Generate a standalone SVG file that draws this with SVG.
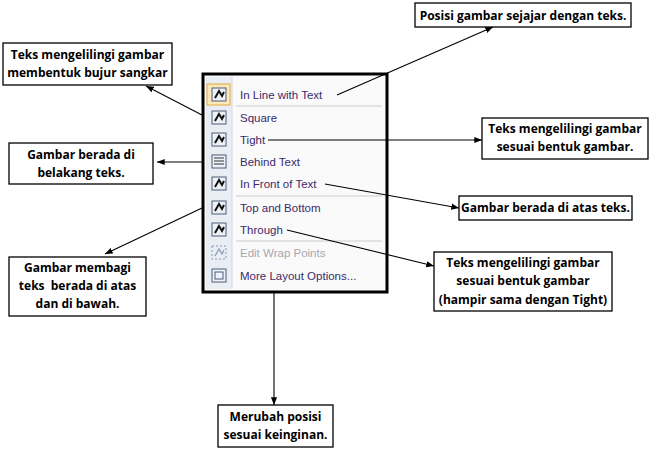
<svg xmlns="http://www.w3.org/2000/svg" width="653" height="453" viewBox="0 0 653 453">
<defs>
<marker id="ah" viewBox="0 0 10 10" refX="10" refY="5" markerWidth="7" markerHeight="7" orient="auto-start-reverse"><path d="M0,1 L10,5 L0,9 z" fill="#000"/></marker>
<style>
.box{fill:#fff;stroke:#000;stroke-width:1.3}
.t{font-family:"Open Sans","Liberation Sans",sans-serif;font-weight:bold;font-size:12px;fill:#000;text-anchor:middle}
.m{font-family:"Liberation Sans",sans-serif;font-size:11.5px;fill:#3a2a6e}
.c{stroke:#000;stroke-width:1.1;fill:none;marker-end:url(#ah)}
.ic{fill:#eef2f8;stroke:#4a5a7a;stroke-width:1}
.sep{stroke:#c8ccd4;stroke-width:1}
</style>
</defs>
<rect width="653" height="453" fill="#fff"/>
<g id="menu">
<rect x="203" y="74" width="184" height="218" fill="#fafafa" stroke="#000" stroke-width="3"/>
<rect x="206" y="77" width="26" height="212" fill="#e9eef5"/>
<line x1="232" y1="77" x2="232" y2="289" stroke="#d0d6e0"/>
<rect x="207" y="84" width="23" height="21" fill="#fde9b8" stroke="#e8a440"/>
<line class="sep" x1="236" y1="106" x2="382" y2="106"/>
<line class="sep" x1="236" y1="196" x2="382" y2="196"/>
<line class="sep" x1="236" y1="241" x2="382" y2="241"/>
<g fill="#1a1a1a">
<rect class="ic" x="212" y="88" width="14" height="13"/><path d="M215,98 L219,91 L222,96 L224,92" stroke="#111" stroke-width="2" fill="none"/>
<rect class="ic" x="212" y="111" width="14" height="13"/><path d="M215,121 L219,114 L222,119 L224,115" stroke="#111" stroke-width="2" fill="none"/>
<rect class="ic" x="212" y="133" width="14" height="13"/><path d="M215,143 L219,136 L222,141 L224,137" stroke="#111" stroke-width="2" fill="none"/>
<rect class="ic" x="212" y="155" width="14" height="13"/><path d="M214,158 h10 M214,161 h10 M214,164 h10" stroke="#333" stroke-width="1.2" fill="none"/>
<rect class="ic" x="212" y="177" width="14" height="13"/><path d="M215,187 L219,180 L222,185 L224,181" stroke="#111" stroke-width="2" fill="none"/>
<rect class="ic" x="212" y="201" width="14" height="13"/><path d="M215,211 L219,204 L222,209 L224,205" stroke="#111" stroke-width="2" fill="none"/>
<rect class="ic" x="212" y="223" width="14" height="13"/><path d="M215,233 L219,226 L222,231 L224,227" stroke="#111" stroke-width="2" fill="none"/>
<rect x="212" y="246" width="14" height="13" fill="none" stroke="#8a9ab8" stroke-dasharray="2,2"/><path d="M215,256 L219,249 L222,254 L224,250" stroke="#9aa6c0" stroke-width="1.5" fill="none"/>
<rect class="ic" x="212" y="269" width="14" height="13"/><rect x="215" y="272" width="8" height="7" fill="none" stroke="#4a5a7a"/>
</g>
<text class="m" x="240" y="99">In Line with Text</text>
<text class="m" x="240" y="122">Square</text>
<text class="m" x="240" y="144">Tight</text>
<text class="m" x="240" y="166">Behind Text</text>
<text class="m" x="240" y="188">In Front of Text</text>
<text class="m" x="240" y="212">Top and Bottom</text>
<text class="m" x="240" y="234">Through</text>
<text class="m" x="240" y="257" style="fill:#a8a8b0">Edit Wrap Points</text>
<text class="m" x="240" y="280">More Layout Options...</text>
</g>
<g id="connectors">
<line class="c" x1="337" y1="95" x2="493" y2="27"/>
<line class="c" x1="202" y1="115" x2="146" y2="86"/>
<line class="c" x1="203" y1="162" x2="157" y2="162"/>
<line class="c" x1="268" y1="140" x2="482" y2="140"/>
<line class="c" x1="325" y1="184" x2="459" y2="208"/>
<line class="c" x1="202" y1="208" x2="105" y2="254"/>
<line class="c" x1="287" y1="230" x2="434" y2="266"/>
<line class="c" x1="274" y1="292" x2="274" y2="405"/>
</g>
<g id="n1"><rect class="box" x="415" y="3" width="216" height="24"/><text class="t" x="523" y="20">Posisi gambar sejajar dengan teks.</text></g>
<g id="n2"><rect class="box" x="3" y="43" width="169" height="42"/><text class="t" x="87.5" y="59">Teks mengelilingi gambar</text><text class="t" x="87.5" y="77">membentuk bujur sangkar</text></g>
<g id="n3"><rect class="box" x="9" y="143" width="144" height="41"/><text class="t" x="81" y="159">Gambar berada di</text><text class="t" x="81" y="177">belakang teks.</text></g>
<g id="n4"><rect class="box" x="9" y="257" width="137" height="59"/><text class="t" x="77.5" y="272">Gambar membagi</text><text class="t" x="77.5" y="290" xml:space="preserve">teks  berada di atas</text><text class="t" x="77.5" y="308">dan di bawah.</text></g>
<g id="n5"><rect class="box" x="482" y="118" width="166" height="41"/><text class="t" x="565" y="133">Teks mengelilingi gambar</text><text class="t" x="565" y="151">sesuai bentuk gambar.</text></g>
<g id="n6"><rect class="box" x="459" y="196" width="173" height="24"/><text class="t" x="545.5" y="212">Gambar berada di atas teks.</text></g>
<g id="n7"><rect class="box" x="434" y="252" width="178" height="59"/><text class="t" x="523" y="267">Teks mengelilingi gambar</text><text class="t" x="523" y="285">sesuai bentuk gambar</text><text class="t" x="523" y="304">(hampir sama dengan Tight)</text></g>
<g id="n8"><rect class="box" x="218" y="405" width="115" height="42"/><text class="t" x="275.5" y="421">Merubah posisi</text><text class="t" x="275.5" y="439">sesuai keinginan.</text></g>
</svg>
